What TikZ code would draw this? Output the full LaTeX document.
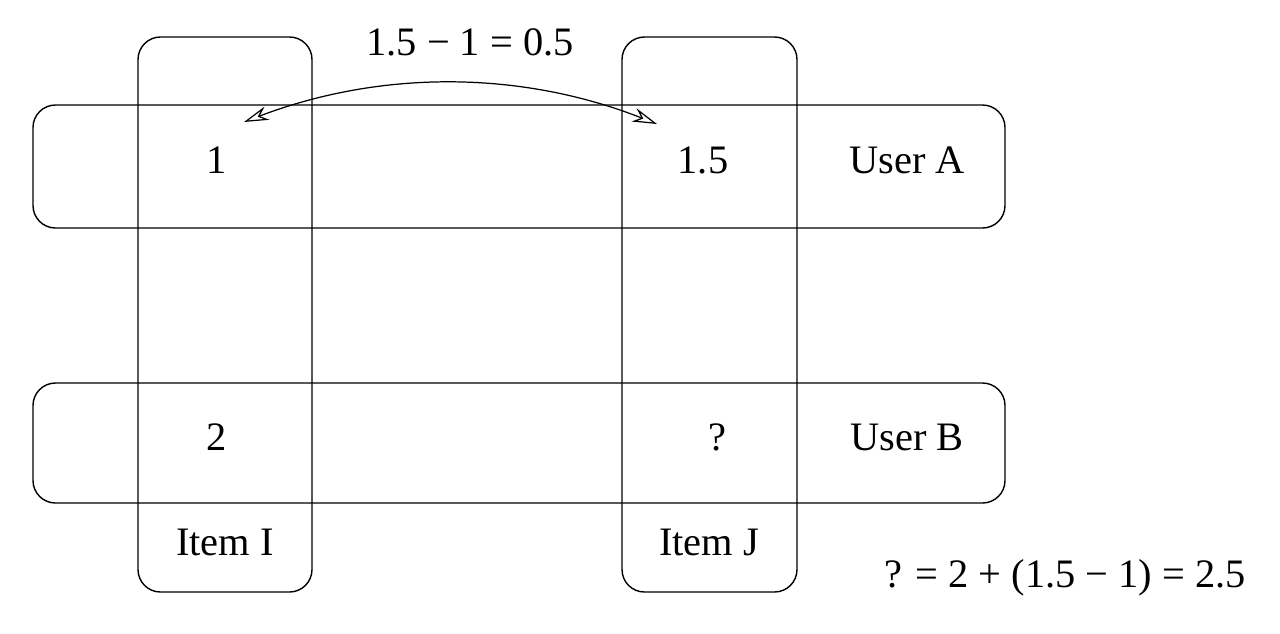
\documentclass[tikz,border=0pt]{standalone}
\usepackage{fontspec}
\setmainfont{Liberation Serif}
\usetikzlibrary{arrows.meta}
\begin{document}
\begin{tikzpicture}[x=0.02cm,y=-0.02cm,
  box/.style={draw,line width=0.8pt,rounded corners=0.45cm},
  lbl/.style={font=\fontsize{23}{27}\selectfont,inner sep=0pt}]
\useasboundingbox (0,0) rectangle (1280,633);
\draw[box] (138,37) rectangle (312,592);
\draw[box] (622,37) rectangle (797,592);
\draw[box] (33,105) rectangle (1005,228);
\draw[box] (33,383) rectangle (1005,503);
\node[lbl] (a1) at (217,160) {1};
\node[lbl] (a2) at (703,160) {1.5};
\node[lbl] (ua) at (907,160) {User A};
\node[lbl] (b1) at (217,437) {2};
\node[lbl] (b2) at (717,437) {?};
\node[lbl] (ub) at (907,437) {User B};
\node[lbl] (ii) at (225,542) {Item I};
\node[lbl] (ij) at (709,542) {Item J};
\node[lbl] (eq2) at (1065,578) {? = 2 + (1.5 − 1) = 2.5};
\node[lbl] (eq1) at (470,42) {1.5 − 1 = 0.5};
\coordinate (p) at (244,122);
\coordinate (q) at (657,124);
\draw[line width=0.7pt,{Stealth[open,length=14pt,width=8pt]}-{Stealth[open,length=14pt,width=8pt]}]
  (p) .. controls (380,70) and (520,70) .. (q);
\end{tikzpicture}
\end{document}
